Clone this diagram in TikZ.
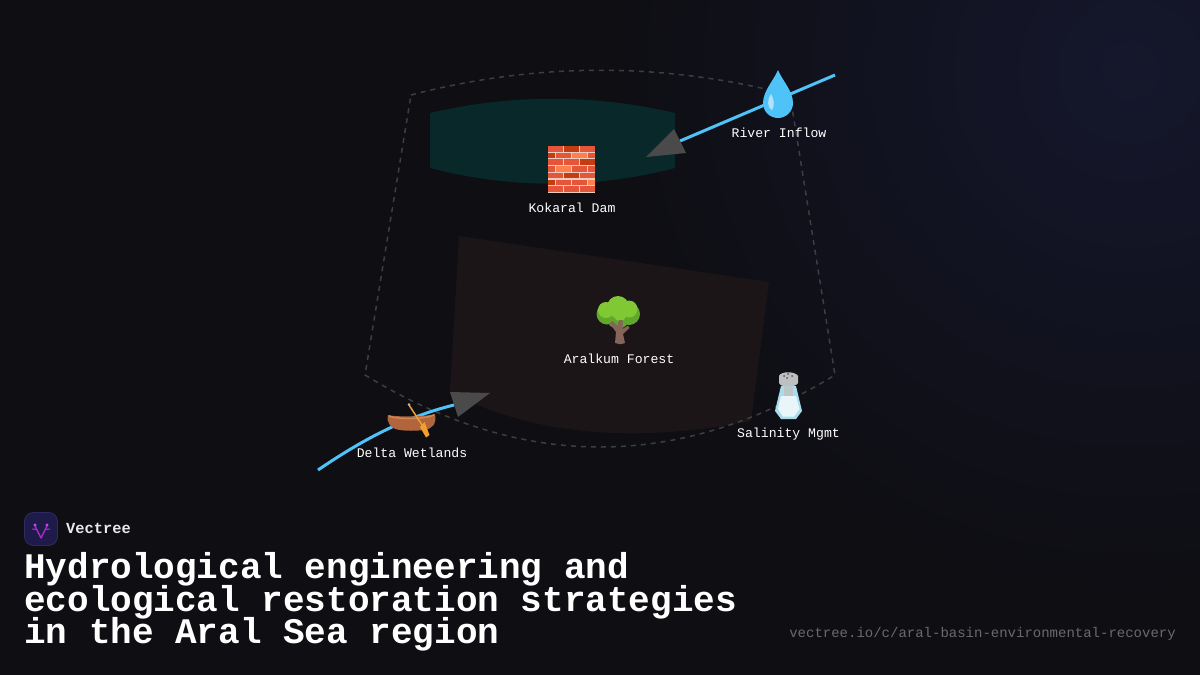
\documentclass[tikz,border=0pt]{standalone}
\usepackage{fontspec}
\setmonofont{Liberation Mono}
\definecolor{bgc}{HTML}{0E0E13}
\definecolor{glow}{HTML}{15172C}
\definecolor{teal}{HTML}{09282A}
\definecolor{earth}{HTML}{1B1517}
\definecolor{water}{HTML}{4FC3F7}
\definecolor{headc}{HTML}{4A4A4A}
\definecolor{rim}{HTML}{3E3E42}
\definecolor{mortar}{HTML}{E6CDBF}
\definecolor{brick}{HTML}{E5553A}
\definecolor{brickd}{HTML}{C43C12}
\definecolor{brickl}{HTML}{FF7F4D}
\definecolor{trunk}{HTML}{86645A}
\definecolor{leafd}{HTML}{5FA82C}
\definecolor{leafl}{HTML}{80C934}
\definecolor{glass}{HTML}{A9DDEE}
\definecolor{salt}{HTML}{E8F6FA}
\definecolor{saltg}{HTML}{BFC6C8}
\definecolor{capc}{HTML}{BDBFC0}
\definecolor{holec}{HTML}{555555}
\definecolor{canoed}{HTML}{B0653C}
\definecolor{canoel}{HTML}{D08A50}
\definecolor{paddle}{HTML}{F0A030}
\definecolor{tipc}{HTML}{BBBBBB}
\definecolor{logobg}{HTML}{1E1B4B}
\definecolor{logoedge}{HTML}{2F2A5F}
\definecolor{logoline}{HTML}{A52BBF}
\definecolor{logodot}{HTML}{C848DC}
\definecolor{brandc}{HTML}{E8E8E8}
\definecolor{urlc}{HTML}{6A6A6E}
\tikzset{
 lab/.style={font=\ttfamily\fontsize{13.15}{16}\selectfont,text=white,inner sep=0pt,anchor=center},
 flow/.style={draw=water,line width=3pt},
 tip/.style={fill=headc,draw=none},
 rimline/.style={draw=rim,line width=1.5pt,dash pattern=on 5pt off 5pt},
 titletext/.style={inner sep=0pt,anchor=base west,text=white,font=\ttfamily\bfseries\fontsize{36}{36}\selectfont}
}
\begin{document}
\begin{tikzpicture}[x=1pt,y=-1pt]
\useasboundingbox (0,0) rectangle (1200,675);
\fill[bgc] (0,0) rectangle (1200,675);
\begin{scope}
\clip (0,0) rectangle (1200,675);
\shade[inner color=glow,outer color=bgc] (1130,70) circle[radius=520];
\end{scope}
% zones
\fill[teal] (430,113) .. controls (511,94) and (594,94) .. (675,113) -- (675,168) .. controls (594,189) and (511,189) .. (430,168) -- cycle;
\fill[earth] (459,236) -- (769,282) -- (751,421) .. controls (650,441) and (540,440) .. (450,392) -- cycle;
% dashed outline
\draw[rimline] (411,95) .. controls (537,62) and (664,62) .. (790,95) -- (835,375) .. controls (678,471) and (522,471) .. (365,375) -- cycle;
% connectors
\coordinate (riverstart) at (835,75);
\coordinate (riverend) at (680,141);
\coordinate (deltastart) at (318,470);
\coordinate (deltaend) at (454,405);
\draw[flow] (riverstart) -- (riverend);
\draw[flow] (deltastart) .. controls (362,440) and (405,417) .. (deltaend);
\fill[tip] (646,157) -- (674,129) -- (686,153) -- cycle;
\fill[tip] (450,392) -- (490,393) -- (458,417) -- cycle;
% droplet
\fill[water] (778,70) .. controls (782,80) and (793,91) .. (793,103) arc[start angle=0,end angle=180,radius=15] .. controls (763,91) and (774,80) .. (778,70) -- cycle;
\fill[white,opacity=.55] (771,94) .. controls (767,99) and (767,108) .. (772,110) .. controls (775,106) and (774,99) .. (771,94) -- cycle;
% bricks
\begin{scope}
\clip (548,146) rectangle (595,192.5);
\fill[mortar] (548,146) rectangle (595,193);
\foreach \r/\off/\ca/\cb/\cc/\cd in {0/0/brick/brickd/brick/brick,1/-8/brickd/brick/brickl/brick,2/0/brick/brick/brickd/brick,3/-8/brick/brickl/brick/brick,4/0/brick/brickd/brick/brick,5/-8/brickd/brick/brick/brickl,6/0/brick/brick/brick/brickd}{
 \pgfmathsetmacro\yy{146+\r*6.7}
 \fill[\ca] ({548+\off},\yy) rectangle ++(14.9,5.6);
 \fill[\cb] ({564+\off},\yy) rectangle ++(14.9,5.6);
 \fill[\cc] ({580+\off},\yy) rectangle ++(14.9,5.6);
 \fill[\cd] ({596+\off},\yy) rectangle ++(14.9,5.6);
}
\end{scope}
% tree
\fill[leafd] (607,314) circle[radius=10.5];
\fill[leafd] (629,314) circle[radius=11];
\fill[leafd] (618,318) circle[radius=11];
\fill[leafl] (618,307) circle[radius=11];
\fill[leafl] (606,310) circle[radius=8];
\fill[leafl] (629,309) circle[radius=8.5];
\fill[leafl] (620,315) circle[radius=6];
\fill[trunk] (615,343) -- (616,332) -- (609.5,323) -- (612.5,321) -- (617.5,326) -- (619,320) -- (622.5,320) -- (622.5,329) -- (628,325.5) -- (629.5,328) -- (623,334) -- (625,343) .. controls (621,344.5) and (618,344.5) .. (615,343) -- cycle;
% salt shaker
\fill[glass] (781,386) -- (796,386) -- (802,411) -- (796,419) -- (781,419) -- (775,411) -- cycle;
\fill[saltg] (784,387) -- (793,387) -- (793,398) -- (784,398) -- cycle;
\fill[salt] (778,409) -- (781,396) -- (796,396) -- (799.5,409) -- (794,416.5) -- (783,416.5) -- cycle;
\fill[capc] (779,376) .. controls (781,371) and (795,371) .. (798,376) -- (798,383) .. controls (795,388) and (781,388) .. (779,383) -- cycle;
\foreach \p in {(784,376),(788,374),(792,376),(787,378)}{\fill[holec] \p circle[radius=1];}
% canoe
\fill[canoed] (388,415) .. controls (394,417) and (426,417) .. (435,414) .. controls (437,424) and (432,429) .. (424,430) .. controls (416,431) and (406,431) .. (400,430) .. controls (391,429) and (386,423) .. (388,415) -- cycle;
\draw[canoel,line width=1.4pt] (389,416) .. controls (397,419.5) and (424,419.5) .. (434,415);
\draw[paddle,line width=1.5pt] (409,405) -- (424,428);
\fill[paddle] (420,427) -- (424.5,422) -- (429.5,435) -- (426,437.5) -- cycle;
\fill[tipc] (409,404.5) circle[radius=1.3];
% labels
\node[lab] (inflow) at (779,133) {River Inflow};
\node[lab] (dam) at (572,208) {Kokaral Dam};
\node[lab] (forest) at (619,359) {Aralkum Forest};
\node[lab] (salinity) at (788.5,434) {Salinity Mgmt};
\node[lab] (wetlands) at (412,453) {Delta Wetlands};
% logo
\fill[logobg,draw=logoedge,line width=.8pt,rounded corners=9pt] (24.5,512.5) rectangle (57.5,545.5);
\draw[logoline,line width=1.4pt,line join=round] (35,526) -- (41,538) -- (47,526);
\draw[logoline,line width=1.1pt] (32,529) -- (37,529.5) (50,529) -- (45,529.5);
\fill[logodot] (35,525) circle[radius=1.7] (47,525) circle[radius=1.7];
\node[inner sep=0pt,anchor=base west,text=brandc,font=\ttfamily\bfseries\fontsize{15.4}{19}\selectfont] (brand) at (66,533) {Vectree};
% title
\node[titletext] (t1) at (24,578.6) {Hydrological engineering and};
\node[titletext] (t2) at (24,611) {ecological restoration strategies};
\node[titletext] (t3) at (24,643.6) {in the Aral Sea region};
\node[inner sep=0pt,anchor=base east,text=urlc,font=\ttfamily\fontsize{14}{17}\selectfont] (url) at (1176,637) {vectree.io/c/aral-basin-environmental-recovery};
\end{tikzpicture}
\end{document}
